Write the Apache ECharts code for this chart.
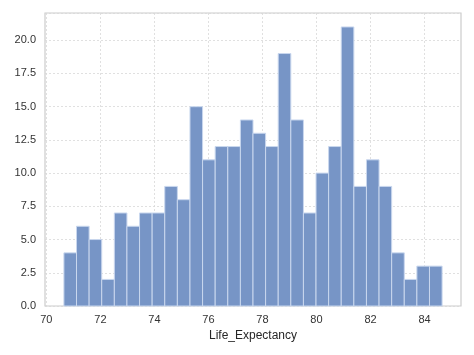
<!DOCTYPE html>
<html>
<head>
<meta charset="utf-8">
<script src="https://cdn.jsdelivr.net/npm/echarts@6/dist/echarts.min.js"></script>
<style>html,body{margin:0;padding:0;background:#fff;}#c{width:474px;height:355px;}</style>
</head>
<body>
<div id="c"></div>
<script>
// Histogram: 30 bins between data min and max
const binStart = 70.65;
const binEnd = 84.65;
const counts = [4,6,5,2,7,6,7,7,9,8,15,11,12,12,14,13,12,19,14,7,10,12,21,9,11,9,4,2,3,3];
const xTicks = [70,72,74,76,78,80,82,84];
const yTicks = [0,2.5,5,7.5,10,12.5,15,17.5,20];
const xLabel = 'Life_Expectancy';

const nb = counts.length;
const w = (binEnd - binStart) / nb;
const binData = counts.map((c, i) => [binStart + i * w, binStart + (i + 1) * w, c]);
const span = binEnd - binStart;

const chart = echarts.init(document.getElementById('c'));
chart.setOption({
  animation: false,
  backgroundColor: '#ffffff',
  grid: {left: 45, right: 13, top: 13, bottom: 49, show: true, borderColor: '#cccccc', borderWidth: 1.2, backgroundColor: 'transparent'},
  xAxis: {
    type: 'value',
    min: binStart - span * 0.05,
    max: binEnd + span * 0.05,
    name: xLabel,
    nameLocation: 'middle',
    nameGap: 22,
    nameTextStyle: {fontFamily: 'Liberation Sans, Arial, sans-serif', fontSize: 12, color: '#262626'},
    axisLine: {show: false},
    axisTick: {show: false, customValues: xTicks},
    axisLabel: {customValues: xTicks, fontFamily: 'Liberation Sans, Arial, sans-serif', fontSize: 11, color: '#333333', margin: 8},
    splitLine: {show: true, lineStyle: {color: '#d9d9d9', type: [2, 2], width: 0.8}}
  },
  yAxis: {
    type: 'value',
    min: 0,
    max: 22.05,
    interval: 2.5,
    axisLine: {show: false},
    axisTick: {show: false},
    axisLabel: {fontFamily: 'Liberation Sans, Arial, sans-serif', fontSize: 11, color: '#333333', margin: 9,
      formatter: v => v > 21 ? '' : v.toFixed(1)},
    splitLine: {show: true, lineStyle: {color: '#d9d9d9', type: [2, 2], width: 0.8}}
  },
  series: [{
    type: 'custom',
    data: binData,
    encode: {x: [0, 1], y: 2},
    renderItem: function (params, api) {
      const p0 = api.coord([api.value(0), api.value(2)]);
      const p1 = api.coord([api.value(1), 0]);
      return {
        type: 'rect',
        shape: {x: p0[0], y: p0[1], width: p1[0] - p0[0], height: p1[1] - p0[1]},
        style: {fill: '#7795c6', stroke: '#c9d7ee', lineWidth: 1}
      };
    }
  }]
});
</script>
</body>
</html>
